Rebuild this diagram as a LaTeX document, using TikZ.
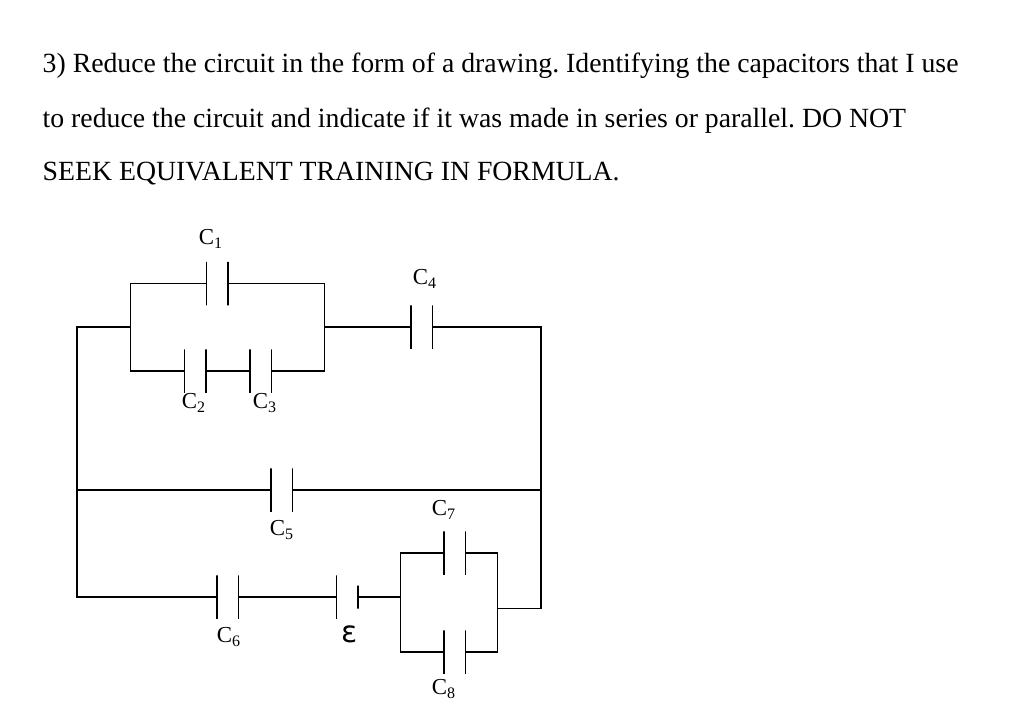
\documentclass[tikz,border=0pt]{standalone}
\usepackage{fontspec}
\setmainfont{Liberation Serif}
\newfontfamily\emffont{DejaVu Sans}
\usepackage{tikz}

\begin{document}
\frenchspacing
\begin{tikzpicture}[x=0.02cm, y=-0.02cm, node distance={4.3mm}, thick,
  plate/.style = {draw, rectangle, minimum width=0pt, minimum height=8.7mm, inner sep=0pt, outer sep=0pt},
  shortplate/.style = {plate, minimum height=4.6mm},
  textline/.style = {anchor=base west, inner sep=0pt, font=\fontsize{15.8}{19}\selectfont},
  lab/.style = {inner sep=0pt, font=\fontsize{13}{15}\selectfont}]
\useasboundingbox (0,0) rectangle (1024,718);
% question text
\node[textline] (t1) at (42,72) {3) Reduce the circuit in the form of a drawing. Identifying the capacitors that I use};
\node[textline] (t2) at (42,127) {to reduce the circuit and indicate if it was made in series or parallel. DO NOT};
\node[textline] (t3) at (42,180) {SEEK EQUIVALENT TRAINING IN FORMULA.};
% plates
\node[plate] (c1a) at (206.5,283.5) {};
\node[plate] (c1b) [right of=c1a] {};
\node[plate] (c2a) at (184.5,371) {};
\node[plate] (c2b) [right of=c2a] {};
\node[plate] (c3a) at (250,371) {};
\node[plate] (c3b) [right of=c3a] {};
\node[plate] (c4a) at (411,327) {};
\node[plate] (c4b) [right of=c4a] {};
\node[plate] (c5a) at (271,490) {};
\node[plate] (c5b) [right of=c5a] {};
\node[plate] (c6a) at (217,597) {};
\node[plate] (c6b) [right of=c6a] {};
\node[plate] (ea) at (336.5,597) {};
\node[shortplate] (eb) [right of=ea] {};
\node[plate] (c7a) at (444,553) {};
\node[plate] (c7b) [right of=c7a] {};
\node[plate] (c8a) at (444,652) {};
\node[plate] (c8b) [right of=c8a] {};
% labels
\node[lab] (l1) at (211,239) {C\textsubscript{1}};
\node[lab] (l2) at (194,403) {C\textsubscript{2}};
\node[lab] (l3) at (265,403) {C\textsubscript{3}};
\node[lab] (l4) at (425,279) {C\textsubscript{4}};
\node[lab] (l5) at (282,530) {C\textsubscript{5}};
\node[lab] (l6) at (229,637) {C\textsubscript{6}};
\node[lab] (l7) at (444,510) {C\textsubscript{7}};
\node[lab] (l8) at (444,689) {C\textsubscript{8}};
\node[lab, font=\emffont\fontsize{17}{17}\selectfont] (le) at (350,634) {ɛ};
% junctions
\coordinate (tl) at (130.5,327);
\coordinate (tr) at (324.5,327);
\coordinate (ol) at (77,327);
\coordinate (or) at (541,327);
\coordinate (ml) at (77,490);
\coordinate (mr) at (541,490);
\coordinate (bl) at (77,597);
\coordinate (pl) at (400.5,597);
\coordinate (pr) at (497.5,608.5);
\coordinate (br) at (541,608.5);
% wires
\draw (c1a) -| (tl) |- (c2a);
\draw (c1b) -| (tr) |- (c3b);
\draw (c2b) -- (c3a);
\draw (tl) -- (ol) -- (bl) -- (c6a);
\draw (tr) -- (c4a);
\draw (c4b) -- (or) -- (br) -- (pr);
\draw (ml) -- (c5a);
\draw (c5b) -- (mr);
\draw (c6b) -- (ea);
\draw (eb) -- (pl);
\draw (c7a) -| (pl) |- (c8a);
\draw (c7b) -| (pr) |- (c8b);
\end{tikzpicture}
\end{document}
